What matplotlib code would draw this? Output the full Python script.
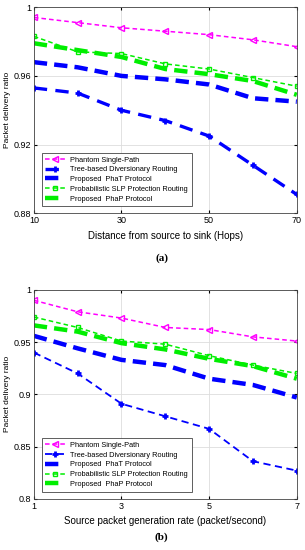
import numpy as np
import matplotlib
matplotlib.use("Agg")
import matplotlib.pyplot as plt

# (a) distance from source to sink
hops = [10, 20, 30, 40, 50, 60, 70]
phantom_a = [0.994, 0.991, 0.988, 0.986, 0.984, 0.981, 0.977]
tree_a = [0.953, 0.950, 0.940, 0.934, 0.925, 0.908, 0.891]
phat_a = [0.968, 0.965, 0.960, 0.958, 0.955, 0.947, 0.945]
prob_a = [0.983, 0.974, 0.973, 0.967, 0.964, 0.959, 0.954]
phap_a = [0.979, 0.975, 0.971, 0.964, 0.961, 0.957, 0.949]

# (b) source packet generation rate
rate = [1, 2, 3, 4, 5, 6, 7]
phantom_b = [0.990, 0.979, 0.973, 0.964, 0.962, 0.955, 0.951]
tree_b = [0.940, 0.920, 0.891, 0.879, 0.867, 0.836, 0.827]
phat_b = [0.956, 0.944, 0.933, 0.928, 0.915, 0.909, 0.897]
prob_b = [0.974, 0.964, 0.951, 0.948, 0.937, 0.928, 0.920]
phap_b = [0.966, 0.960, 0.949, 0.943, 0.934, 0.927, 0.915]

names = ["Phantom Single-Path", "Tree-based Diversionary Routing",
         "Proposed  PhaT Protocol", "Probabilistic SLP Protection Routing",
         "Proposed  PhaP Protocol"]

plt.rcParams['font.family'] = ['Liberation Sans', 'DejaVu Sans']
fs = 6.5

fig = plt.figure(figsize=(3.05, 5.5), dpi=100)
ax1 = fig.add_axes([0.111, 0.612, 0.862, 0.375])
ax2 = fig.add_axes([0.111, 0.093, 0.862, 0.380])


def draw(ax, x, series, tree_lw):
    ph, tr, pt, pb, pp = series
    ax.plot(x, ph, color='#ff00ff', ls=(0, (3, 2)), lw=1.1, marker='<',
            mfc='none', ms=5, mew=1.0, label=names[0])
    ax.plot(x, tr, color='#0000ff', ls=(0, (4, 2.5)), lw=tree_lw, marker='+',
            ms=5, mew=2.0, label=names[1])
    ax.plot(x, pt, color='#0000ff', ls=(0, (3, 1.6)), lw=3.2, label=names[2])
    ax.plot(x, pb, color='#00ee00', ls=(0, (3, 2)), lw=1.1, marker='s',
            mfc='none', ms=3.5, mew=1.0, label=names[3])
    ax.plot(x, pp, color='#00ee00', ls=(0, (3, 1.6)), lw=3.2, label=names[4])
    ax.grid(True, color='#dddddd', lw=0.6)
    ax.tick_params(labelsize=fs, length=2, direction='in', top=True, right=True,
                   pad=2)
    for s in ax.spines.values():
        s.set_color('#444444')
        s.set_linewidth(0.6)
    ax.set_ylabel("Packet delivery ratio", fontsize=6, labelpad=1.5)
    leg = ax.legend(loc='lower left', bbox_to_anchor=(0.03, 0.035),
                    borderaxespad=0, fontsize=5.3, handlelength=2.6,
                    labelspacing=0.35, fancybox=False, framealpha=1,
                    edgecolor='#444444', borderpad=0.5)
    leg.get_frame().set_linewidth(0.6)


draw(ax1, hops, [phantom_a, tree_a, phat_a, prob_a, phap_a], 2.4)
ax1.set_xlim(10, 70)
ax1.set_ylim(0.88, 1.0)
ax1.set_xticks([10, 30, 50, 70])
ax1.set_yticks([0.88, 0.92, 0.96, 1.0])
ax1.set_yticklabels(["0.88", "0.92", "0.96", "1"])
ax1.set_xlabel("Distance from source to sink (Hops)", fontsize=fs + 0.5, labelpad=4)

draw(ax2, rate, [phantom_b, tree_b, phat_b, prob_b, phap_b], 1.3)
ax2.set_xlim(1, 7)
ax2.set_ylim(0.8, 1.0)
ax2.set_xticks([1, 3, 5, 7])
ax2.set_yticks([0.8, 0.85, 0.9, 0.95, 1.0])
ax2.set_yticklabels(["0.8", "0.85", "0.9", "0.95", "1"])
ax2.set_xlabel("Source packet generation rate (packet/second)", fontsize=fs + 0.5,
               labelpad=4)

fig.text(0.53, 1 - 258 / 550, "(a)", ha='center', va='center', fontsize=8,
         fontweight='bold', family='Liberation Serif')
fig.text(0.53, 1 - 537 / 550, "(b)", ha='center', va='center', fontsize=8,
         fontweight='bold', family='Liberation Serif')

fig.savefig("out.png", dpi=100)
